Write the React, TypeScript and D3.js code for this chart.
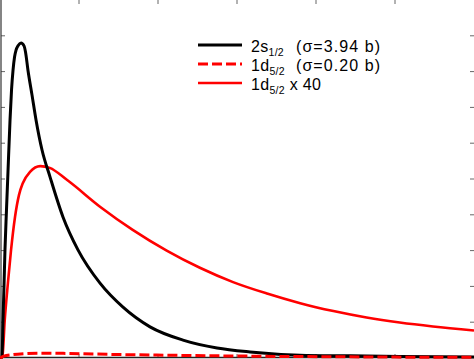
import React from 'react';
import * as d3 from 'd3';

const W = 474;
const H = 359;

const xTicks = [0, 1, 2, 3, 4, 5, 6];
const yTicks = [0, 1, 2, 3, 4, 5, 6, 7, 8, 9, 10];

// 2s1/2 (black)
const s2X = [0, 0.025, 0.038, 0.051, 0.063, 0.082, 0.101, 0.127, 0.146, 0.165, 0.184, 0.203, 0.228, 0.266, 0.304, 0.323, 0.354, 0.405, 0.456, 0.532, 0.633, 0.797, 0.987, 1.266, 1.557, 1.899, 2.316, 2.747, 3.165, 3.797, 4.43, 5.063, 6.0];
const s2Y = [0, 0.03, 1.06, 2.04, 3.02, 4.13, 5.20, 6.65, 7.49, 8.04, 8.41, 8.60, 8.72, 8.80, 8.72, 8.55, 8.04, 7.35, 6.65, 5.81, 5.06, 3.94, 3.02, 2.09, 1.42, 0.87, 0.50, 0.28, 0.17, 0.08, 0.06, 0.04, 0.03];

// 1d5/2 x 40 (red solid)
const d40X = [0, 0.03, 0.06, 0.10, 0.14, 0.19, 0.24, 0.29, 0.38, 0.51, 0.63, 0.85, 1.27, 1.68, 2.11, 2.53, 2.95, 3.38, 3.80, 4.22, 4.64, 5.06, 5.48, 6.0];
const d40Y = [0, 0.03, 1.06, 2.09, 3.02, 3.94, 4.55, 4.89, 5.20, 5.36, 5.31, 4.97, 4.22, 3.58, 3.00, 2.52, 2.12, 1.80, 1.53, 1.31, 1.13, 0.99, 0.88, 0.77];

// 1d5/2 (red dashed)
const dX = [0, 0.05, 0.15, 0.3, 0.5, 0.8, 1.2, 1.7, 2.2, 2.8, 3.5, 4.2, 5.0, 6.0];
const dY = [0, 0.05, 0.09, 0.12, 0.134, 0.13, 0.11, 0.09, 0.075, 0.06, 0.045, 0.035, 0.025, 0.019];

export default function App() {
  const x = d3.scaleLinear().domain([0, 6]).range([0, 474]);
  const y = d3.scaleLinear().domain([0, 10]).range([358, 0]);
  const line = d3
    .line<[number, number]>()
    .x((d) => x(d[0]))
    .y((d) => y(d[1]))
    .curve(d3.curveMonotoneX);
  const zip = (a: number[], b: number[]) => a.map((v, i) => [v, b[i]] as [number, number]);

  const font = '"Liberation Sans", Arial, Helvetica, sans-serif';
  const tickCol = '#666';

  return (
    <svg
      width={W}
      height={H}
      style={{ position: 'fixed', left: 0, top: 0, display: 'block', background: '#fff' }}
    >
      <rect x={0} y={0} width={W} height={H} fill="#fff" />
      {/* ticks */}
      {xTicks.slice(1, -1).map((t) => (
        <g key={'xt' + t}>
          <line x1={x(t)} x2={x(t)} y1={0} y2={4} stroke={tickCol} strokeWidth={1} />
          <line x1={x(t)} x2={x(t)} y1={y(0)} y2={y(0) - 4} stroke={tickCol} strokeWidth={1} />
        </g>
      ))}
      {yTicks.slice(1, -1).map((t) => (
        <g key={'yt' + t}>
          <line x1={1} x2={5} y1={y(t)} y2={y(t)} stroke={tickCol} strokeWidth={1} />
          <line x1={474} x2={470} y1={y(t)} y2={y(t)} stroke={tickCol} strokeWidth={1} />
        </g>
      ))}
      {/* frame */}
      <line x1={1} x2={1} y1={0} y2={358} stroke="#333" strokeWidth={1.2} />
      <line x1={0} x2={474} y1={357.5} y2={357.5} stroke="#222" strokeWidth={1.5} />

      {/* curves */}
      <path d={line(zip(d40X, d40Y)) || ''} fill="none" stroke="#f00" strokeWidth={2.6} />
      <path d={line(zip(s2X, s2Y)) || ''} fill="none" stroke="#000" strokeWidth={3} />
      <path
        d={line(zip(dX, dY)) || ''}
        fill="none"
        stroke="#f00"
        strokeWidth={3}
        strokeDasharray="10,4"
      />

      {/* legend */}
      <g fontFamily={font} fill="#000">
        <line x1={198} x2={242} y1={45} y2={45} stroke="#000" strokeWidth={3} />
        <line x1={198} x2={242} y1={64} y2={64} stroke="#f00" strokeWidth={3} strokeDasharray="10,4" />
        <line x1={198} x2={242} y1={83} y2={83} stroke="#f00" strokeWidth={2.6} />

        <text x={251} y={52} fontSize={16} letterSpacing={0.3}>
          2s<tspan fontSize={10.5} dy={4}>1/2</tspan>
        </text>
        <text x={296} y={52} fontSize={16} textLength={84} lengthAdjust="spacing">(σ=3.94 b)</text>

        <text x={251} y={71} fontSize={16} letterSpacing={0.3}>
          1d<tspan fontSize={10.5} dy={4}>5/2</tspan>
        </text>
        <text x={296} y={71} fontSize={16} textLength={84} lengthAdjust="spacing">(σ=0.20 b)</text>

        <text x={251} y={90} fontSize={16} letterSpacing={0.3}>
          1d<tspan fontSize={10.5} dy={4}>5/2</tspan>
          <tspan dy={-4} fontSize={16}> x 40</tspan>
        </text>
      </g>
    </svg>
  );
}
